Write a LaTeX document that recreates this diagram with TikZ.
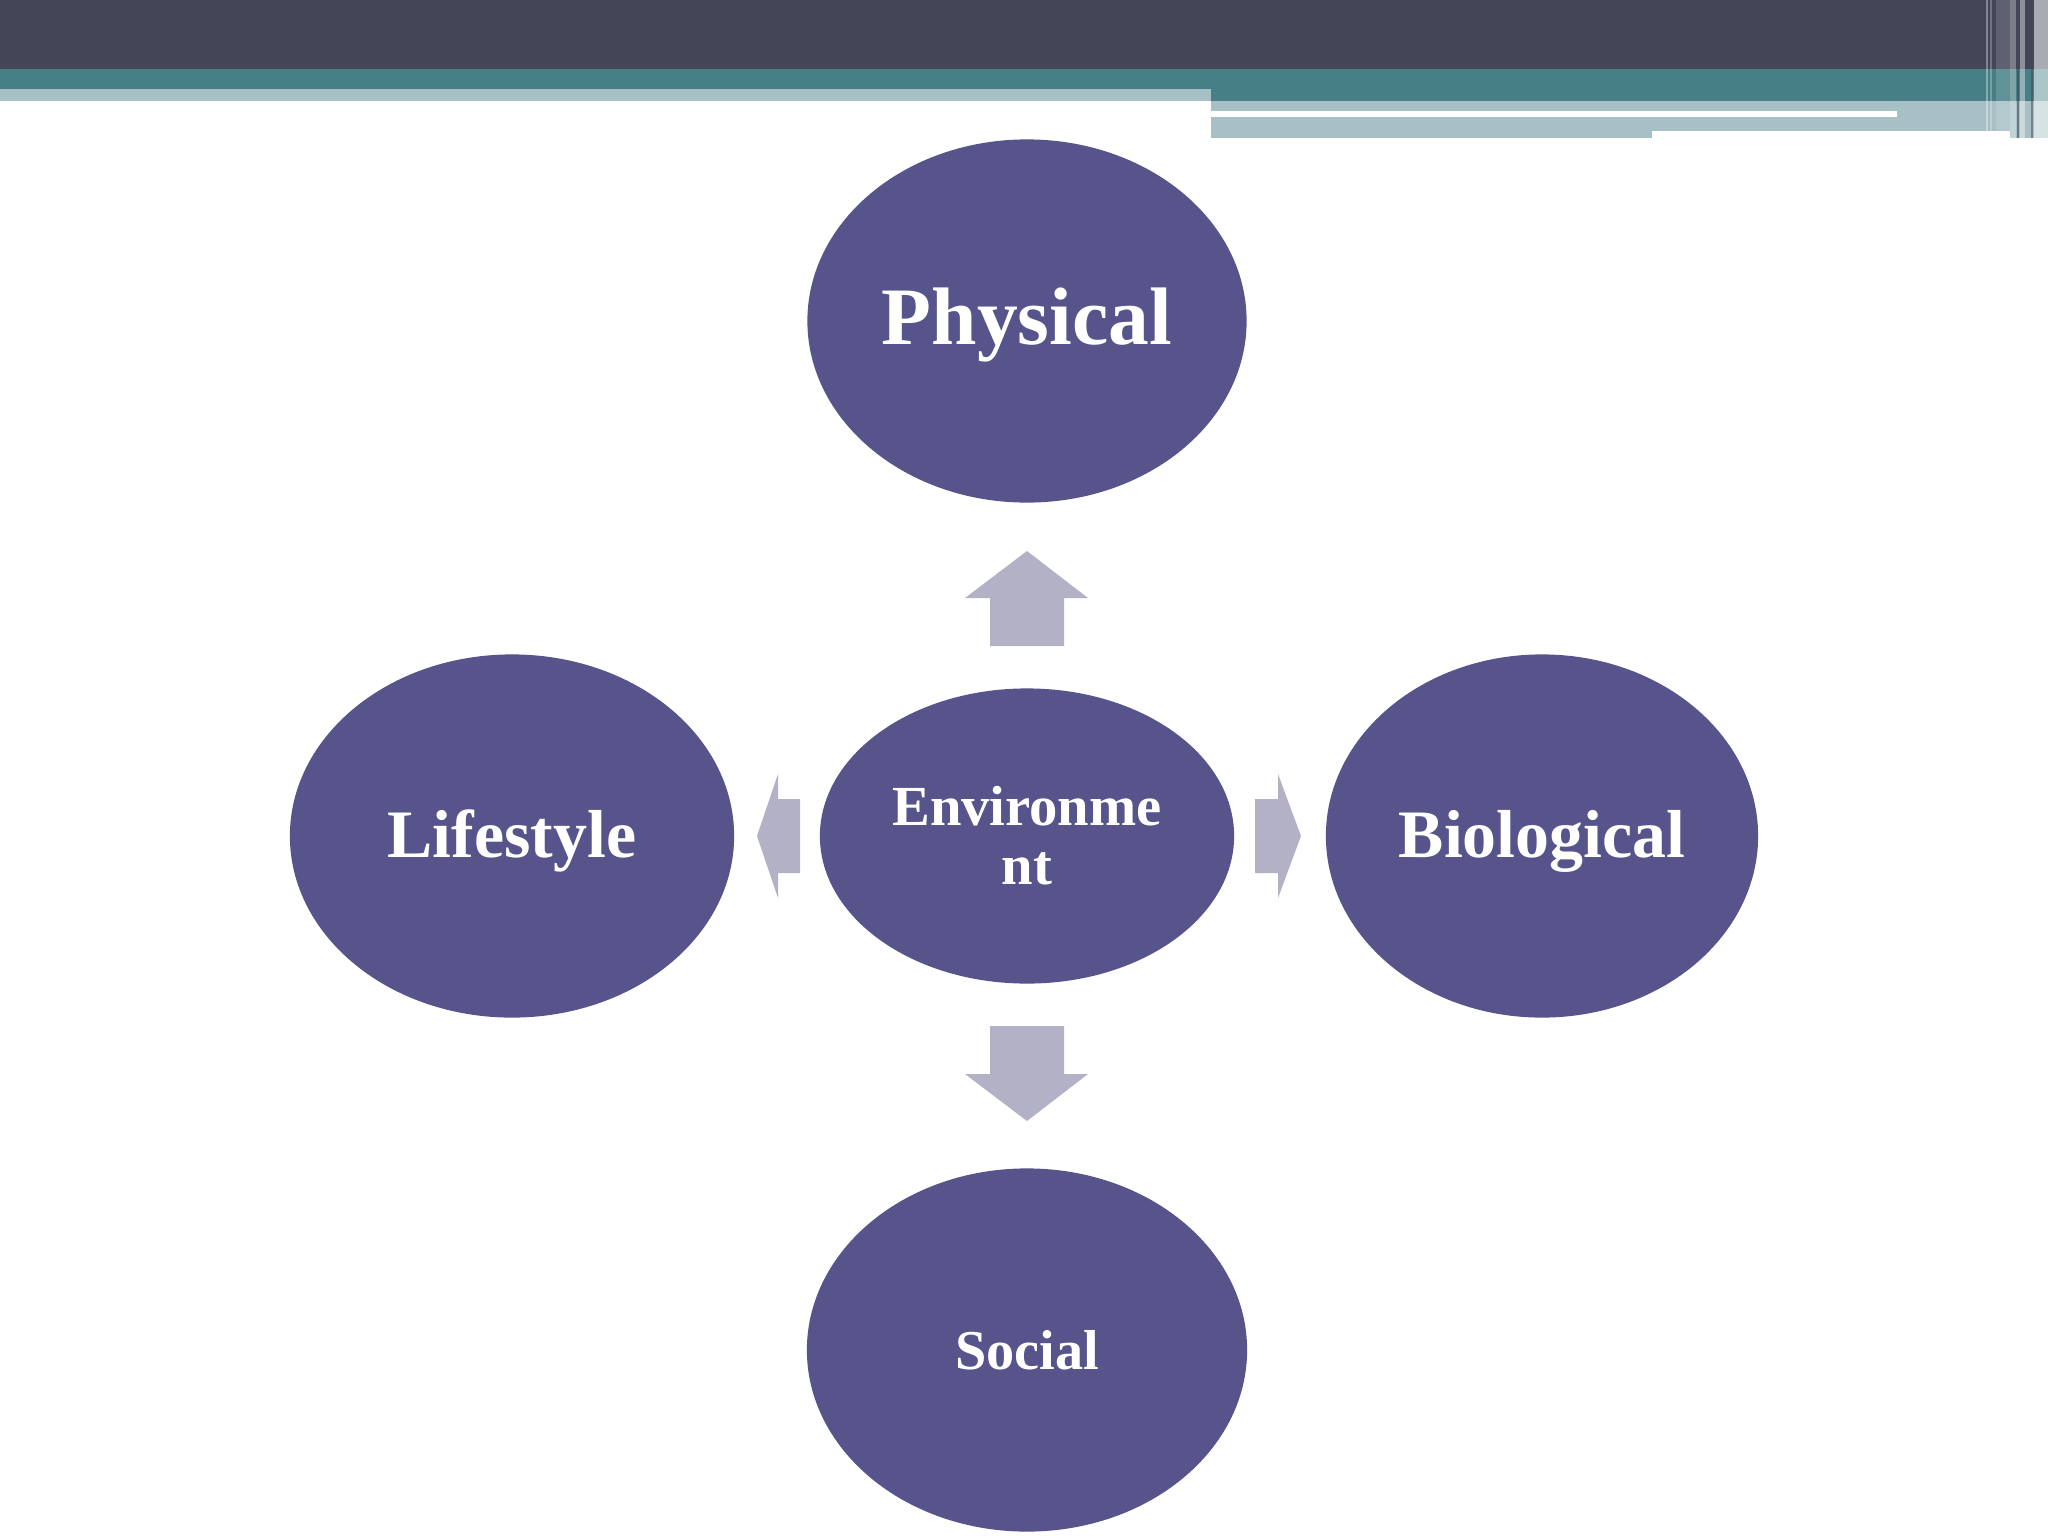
\documentclass[tikz,border=0pt]{standalone}
\usepackage{fontspec}
\setmainfont{Liberation Serif}
\usetikzlibrary{shapes.geometric}
\definecolor{darkband}{HTML}{424656}
\definecolor{tealband}{HTML}{467F86}
\definecolor{lightband}{HTML}{A6C0C5}
\definecolor{ellfill}{HTML}{56548B}
\definecolor{arrfill}{HTML}{B3B1C6}
\tikzset{
  blob/.style={ellipse, fill=ellfill, text=white, inner sep=0pt, align=center},
  bigblob/.style={blob, minimum width=4.39cm, minimum height=3.63cm},
  blockarrow/.style={fill=arrfill, draw=none},
  stripe/.style={fill=white, draw=none}
}
\begin{document}
\begin{tikzpicture}[x=0.01cm,y=-0.01cm]
\useasboundingbox (0,0) rectangle (2048,1536);
\fill[white] (0,0) rectangle (2048,1536);
% top banner
\fill[darkband] (0,0) rectangle (2048,69);
\fill[tealband] (0,69) rectangle (2048,101);
\fill[lightband] (0,89) rectangle (1211,101);
\fill[lightband] (1211,101) rectangle (1652,138);
\fill[lightband] (1652,101) rectangle (2010,131);
\fill[lightband] (2010,101) rectangle (2048,138);
\fill[white] (1211,111) rectangle (1897,117);
% right stripes
\fill[stripe, opacity=0.35] (1986,0) rectangle (1988,138);
\fill[stripe, opacity=0.25] (1990,0) rectangle (1992,138);
\fill[stripe, opacity=0.15] (1996,0) rectangle (2010,138);
\fill[stripe, opacity=0.3] (2010,0) rectangle (2016,138);
\fill[darkband, opacity=0.6] (2017,0) rectangle (2019,138);
\fill[stripe, opacity=0.4] (2020,0) rectangle (2025,138);
\fill[darkband, opacity=0.5] (2031,0) rectangle (2033,138);
\fill[stripe, opacity=0.55] (2034,0) rectangle (2048,138);
% ellipses
\node[bigblob, minimum width=4.39cm, font=\bfseries\fontsize{23.2}{26}\selectfont, text depth=2.8pt] (phys) at (1027,321) {Physical};
\node[bigblob, minimum width=4.44cm, font=\bfseries\fontsize{19.3}{22}\selectfont, text depth=1.4pt] (life) at (512,836) {Lifestyle};
\node[bigblob, minimum width=4.32cm, font=\bfseries\fontsize{19.3}{22}\selectfont, text depth=1.4pt] (bio) at (1542,836) {Biological};
\node[bigblob, minimum width=4.40cm, font=\bfseries\fontsize{16}{18}\selectfont] (soc) at (1027,1350) {Social};
\node[blob, minimum width=4.14cm, minimum height=2.95cm, font=\bfseries\fontsize{16.1}{16.8}\selectfont] (env) at (1027,836) {Environme\\nt};
% block arrows
\fill[blockarrow] (1027,551) -- (1088,598) -- (1064,598) -- (1064,646) -- (990,646) -- (990,598) -- (965,598) -- cycle;
\fill[blockarrow] (1027,1121) -- (1088,1074) -- (1064,1074) -- (1064,1026) -- (990,1026) -- (990,1074) -- (965,1074) -- cycle;
\fill[blockarrow] (757,836) -- (778,774) -- (778,799) -- (800,799) -- (800,873) -- (778,873) -- (778,898) -- cycle;
\fill[blockarrow] (1301,836) -- (1278,774) -- (1278,799) -- (1255,799) -- (1255,873) -- (1278,873) -- (1278,898) -- cycle;
\end{tikzpicture}
\end{document}
